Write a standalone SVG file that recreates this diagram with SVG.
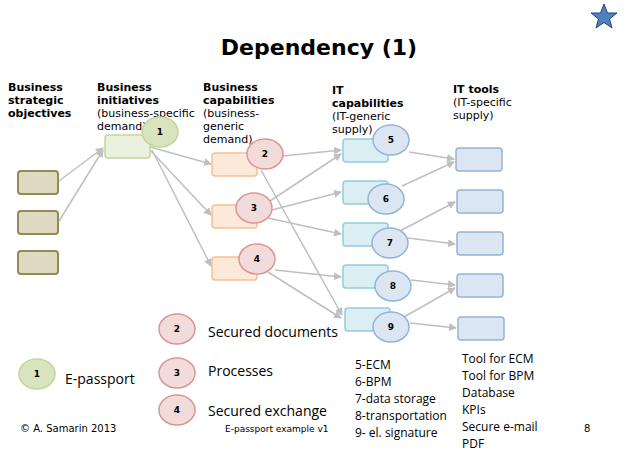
<svg xmlns="http://www.w3.org/2000/svg" width="638" height="451" viewBox="0 0 638 451">
<style>
.h{font-family:"DejaVu Sans",sans-serif;font-weight:bold;font-size:11px}
.s{font-family:"DejaVu Sans",sans-serif;font-size:11px}
.n{font-family:"DejaVu Sans",sans-serif;font-weight:bold;font-size:9px;text-anchor:middle}
.c{font-family:"Open Sans",sans-serif;font-size:14px}
.l{font-family:"Open Sans",sans-serif;font-size:12px}
.ob{fill:#ddd9c3;stroke:#948a54;stroke-width:2}
.in{fill:#ebf1de;stroke:#c3d69b;stroke-width:1.5}
.bc{fill:#fde9d9;stroke:#fac090;stroke-width:1.5}
.ic{fill:#dbeef4;stroke:#93cddd;stroke-width:1.5}
.tl{fill:#dce6f2;stroke:#95b3d7;stroke-width:1.5}
.e1{fill:#d7e4bd;stroke:#c3d69b;stroke-width:1.5}
.er{fill:#f2dcdb;stroke:#d99694;stroke-width:1.5}
.eb{fill:#dce6f2;stroke:#95b3d7;stroke-width:1.5}
#conn line{stroke:#bfbfbf;stroke-width:1.5;marker-end:url(#a)}
</style>
<defs><marker id="a" markerWidth="8" markerHeight="8" refX="7" refY="4" orient="auto" markerUnits="userSpaceOnUse"><path d="M0,0L8,4L0,8z" fill="#bfbfbf"/></marker></defs>
<rect width="638" height="451" fill="#fff"/>
<polygon points="604,4 607.5,13 617,13 609.5,19 612,28 604,22.5 596,28 598.5,19 591,13 600.5,13" fill="#4f81bd" stroke="#1f497d" stroke-width="1"/>
<text x="319" y="55" text-anchor="middle" font-family="DejaVu Sans,sans-serif" font-weight="bold" font-size="22">Dependency (1)</text>
<text class="h"><tspan x="8" y="91">Business</tspan><tspan x="8" y="104">strategic</tspan><tspan x="8" y="117">objectives</tspan></text>
<text class="h" x="97" y="91">Business</text><text class="h" x="97" y="104">initiatives</text>
<text class="s"><tspan x="97" y="117">(business-specific</tspan><tspan x="97" y="130">demand)</tspan></text>
<text class="h" x="203" y="91">Business</text><text class="h" x="203" y="104">capabilities</text>
<text class="s"><tspan x="203" y="117">(business-</tspan><tspan x="203" y="130">generic</tspan><tspan x="203" y="143">demand)</tspan></text>
<text class="h" x="332" y="94">IT</text><text class="h" x="332" y="107">capabilities</text>
<text class="s"><tspan x="332" y="120">(IT-generic</tspan><tspan x="332" y="133">supply)</tspan></text>
<text class="h" x="453" y="93">IT tools</text>
<text class="s"><tspan x="453" y="106">(IT-specific</tspan><tspan x="453" y="119">supply)</tspan></text>
<g id="conn">
<line x1="59" y1="181" x2="103" y2="148"/><line x1="59" y1="221" x2="103" y2="150"/>
<line x1="150" y1="147" x2="211" y2="164"/><line x1="150" y1="150" x2="211" y2="215"/><line x1="152" y1="150" x2="211" y2="266"/>
<line x1="283" y1="156" x2="341" y2="150"/><line x1="261" y1="170" x2="342" y2="315"/>
<line x1="270" y1="201" x2="341" y2="154"/><line x1="272" y1="210" x2="341" y2="192"/><line x1="268" y1="218" x2="341" y2="234"/>
<line x1="275" y1="270" x2="341" y2="277"/><line x1="268" y1="272" x2="341" y2="318"/>
<line x1="409" y1="152" x2="454" y2="159"/><line x1="402" y1="186" x2="454" y2="162"/>
<line x1="400" y1="231" x2="455" y2="202"/><line x1="408" y1="238" x2="455" y2="244"/>
<line x1="411" y1="280" x2="455" y2="285"/><line x1="404" y1="317" x2="455" y2="288"/><line x1="410" y1="323" x2="456" y2="328"/>
</g>
<g id="objectives"><rect class="ob" x="18" y="171" width="40" height="23" rx="3"/><rect class="ob" x="18" y="211" width="40" height="23" rx="3"/><rect class="ob" x="18" y="251" width="40" height="23" rx="3"/></g>
<g id="initiative"><rect class="in" x="105" y="135" width="45" height="23" rx="3"/><ellipse class="e1" cx="160" cy="132" rx="18" ry="15"/><text class="n" x="160" y="135">1</text></g>
<g id="bcap2"><rect class="bc" x="212" y="153" width="45" height="23" rx="3"/><ellipse class="er" cx="265" cy="154" rx="18" ry="15"/><text class="n" x="265" y="157">2</text></g>
<g id="bcap3"><rect class="bc" x="212" y="205" width="45" height="23" rx="3"/><ellipse class="er" cx="254" cy="208" rx="18" ry="15"/><text class="n" x="254" y="211">3</text></g>
<g id="bcap4"><rect class="bc" x="212" y="257" width="45" height="23" rx="3"/><ellipse class="er" cx="257" cy="259" rx="18" ry="15"/><text class="n" x="257" y="262">4</text></g>
<g id="itcap5"><rect class="ic" x="343" y="139" width="45" height="23" rx="3"/><ellipse class="eb" cx="391" cy="140" rx="18" ry="15"/><text class="n" x="391" y="143">5</text></g>
<g id="itcap6"><rect class="ic" x="343" y="181" width="45" height="23" rx="3"/><ellipse class="eb" cx="386" cy="199" rx="18" ry="15"/><text class="n" x="386" y="202">6</text></g>
<g id="itcap7"><rect class="ic" x="343" y="223" width="45" height="23" rx="3"/><ellipse class="eb" cx="390" cy="243" rx="18" ry="15"/><text class="n" x="390" y="246">7</text></g>
<g id="itcap8"><rect class="ic" x="343" y="265" width="45" height="23" rx="3"/><ellipse class="eb" cx="393" cy="286" rx="18" ry="15"/><text class="n" x="393" y="289">8</text></g>
<g id="itcap9"><rect class="ic" x="345" y="308" width="45" height="23" rx="3"/><ellipse class="eb" cx="391" cy="327" rx="18" ry="15"/><text class="n" x="391" y="330">9</text></g>
<g id="tools"><rect class="tl" x="456" y="148" width="46" height="23" rx="3"/><rect class="tl" x="457" y="190" width="46" height="23" rx="3"/><rect class="tl" x="457" y="232" width="46" height="23" rx="3"/><rect class="tl" x="457" y="274" width="46" height="23" rx="3"/><rect class="tl" x="458" y="317" width="46" height="23" rx="3"/></g>
<g id="legend">
<ellipse class="e1" cx="37" cy="374" rx="18" ry="15"/><text class="n" x="37" y="377">1</text><text class="c" x="65" y="384">E-passport</text>
<ellipse class="er" cx="177" cy="329" rx="18" ry="15"/><text class="n" x="177" y="332">2</text><text class="c" x="208" y="337">Secured documents</text>
<ellipse class="er" cx="177" cy="373" rx="18" ry="15"/><text class="n" x="177" y="376">3</text><text class="c" x="208" y="376">Processes</text>
<ellipse class="er" cx="177" cy="410" rx="18" ry="15"/><text class="n" x="177" y="413">4</text><text class="c" x="208" y="416">Secured exchange</text>
<text class="l"><tspan x="355" y="369">5-ECM</tspan><tspan x="355" y="386">6-BPM</tspan><tspan x="355" y="403">7-data storage</tspan><tspan x="355" y="420">8-transportation</tspan><tspan x="355" y="437">9- el. signature</tspan></text>
<text class="l"><tspan x="462" y="363">Tool for ECM</tspan><tspan x="462" y="380">Tool for BPM</tspan><tspan x="462" y="397">Database</tspan><tspan x="462" y="414">KPIs</tspan><tspan x="462" y="431">Secure e-mail</tspan><tspan x="462" y="448">PDF</tspan></text>
</g>
<text x="20" y="432" font-family="DejaVu Sans,sans-serif" font-size="10">© A. Samarin 2013</text>
<text x="225" y="432" font-family="DejaVu Sans,sans-serif" font-size="9">E-passport example v1</text>
<text x="584" y="432" font-family="DejaVu Sans,sans-serif" font-size="10">8</text>
</svg>
